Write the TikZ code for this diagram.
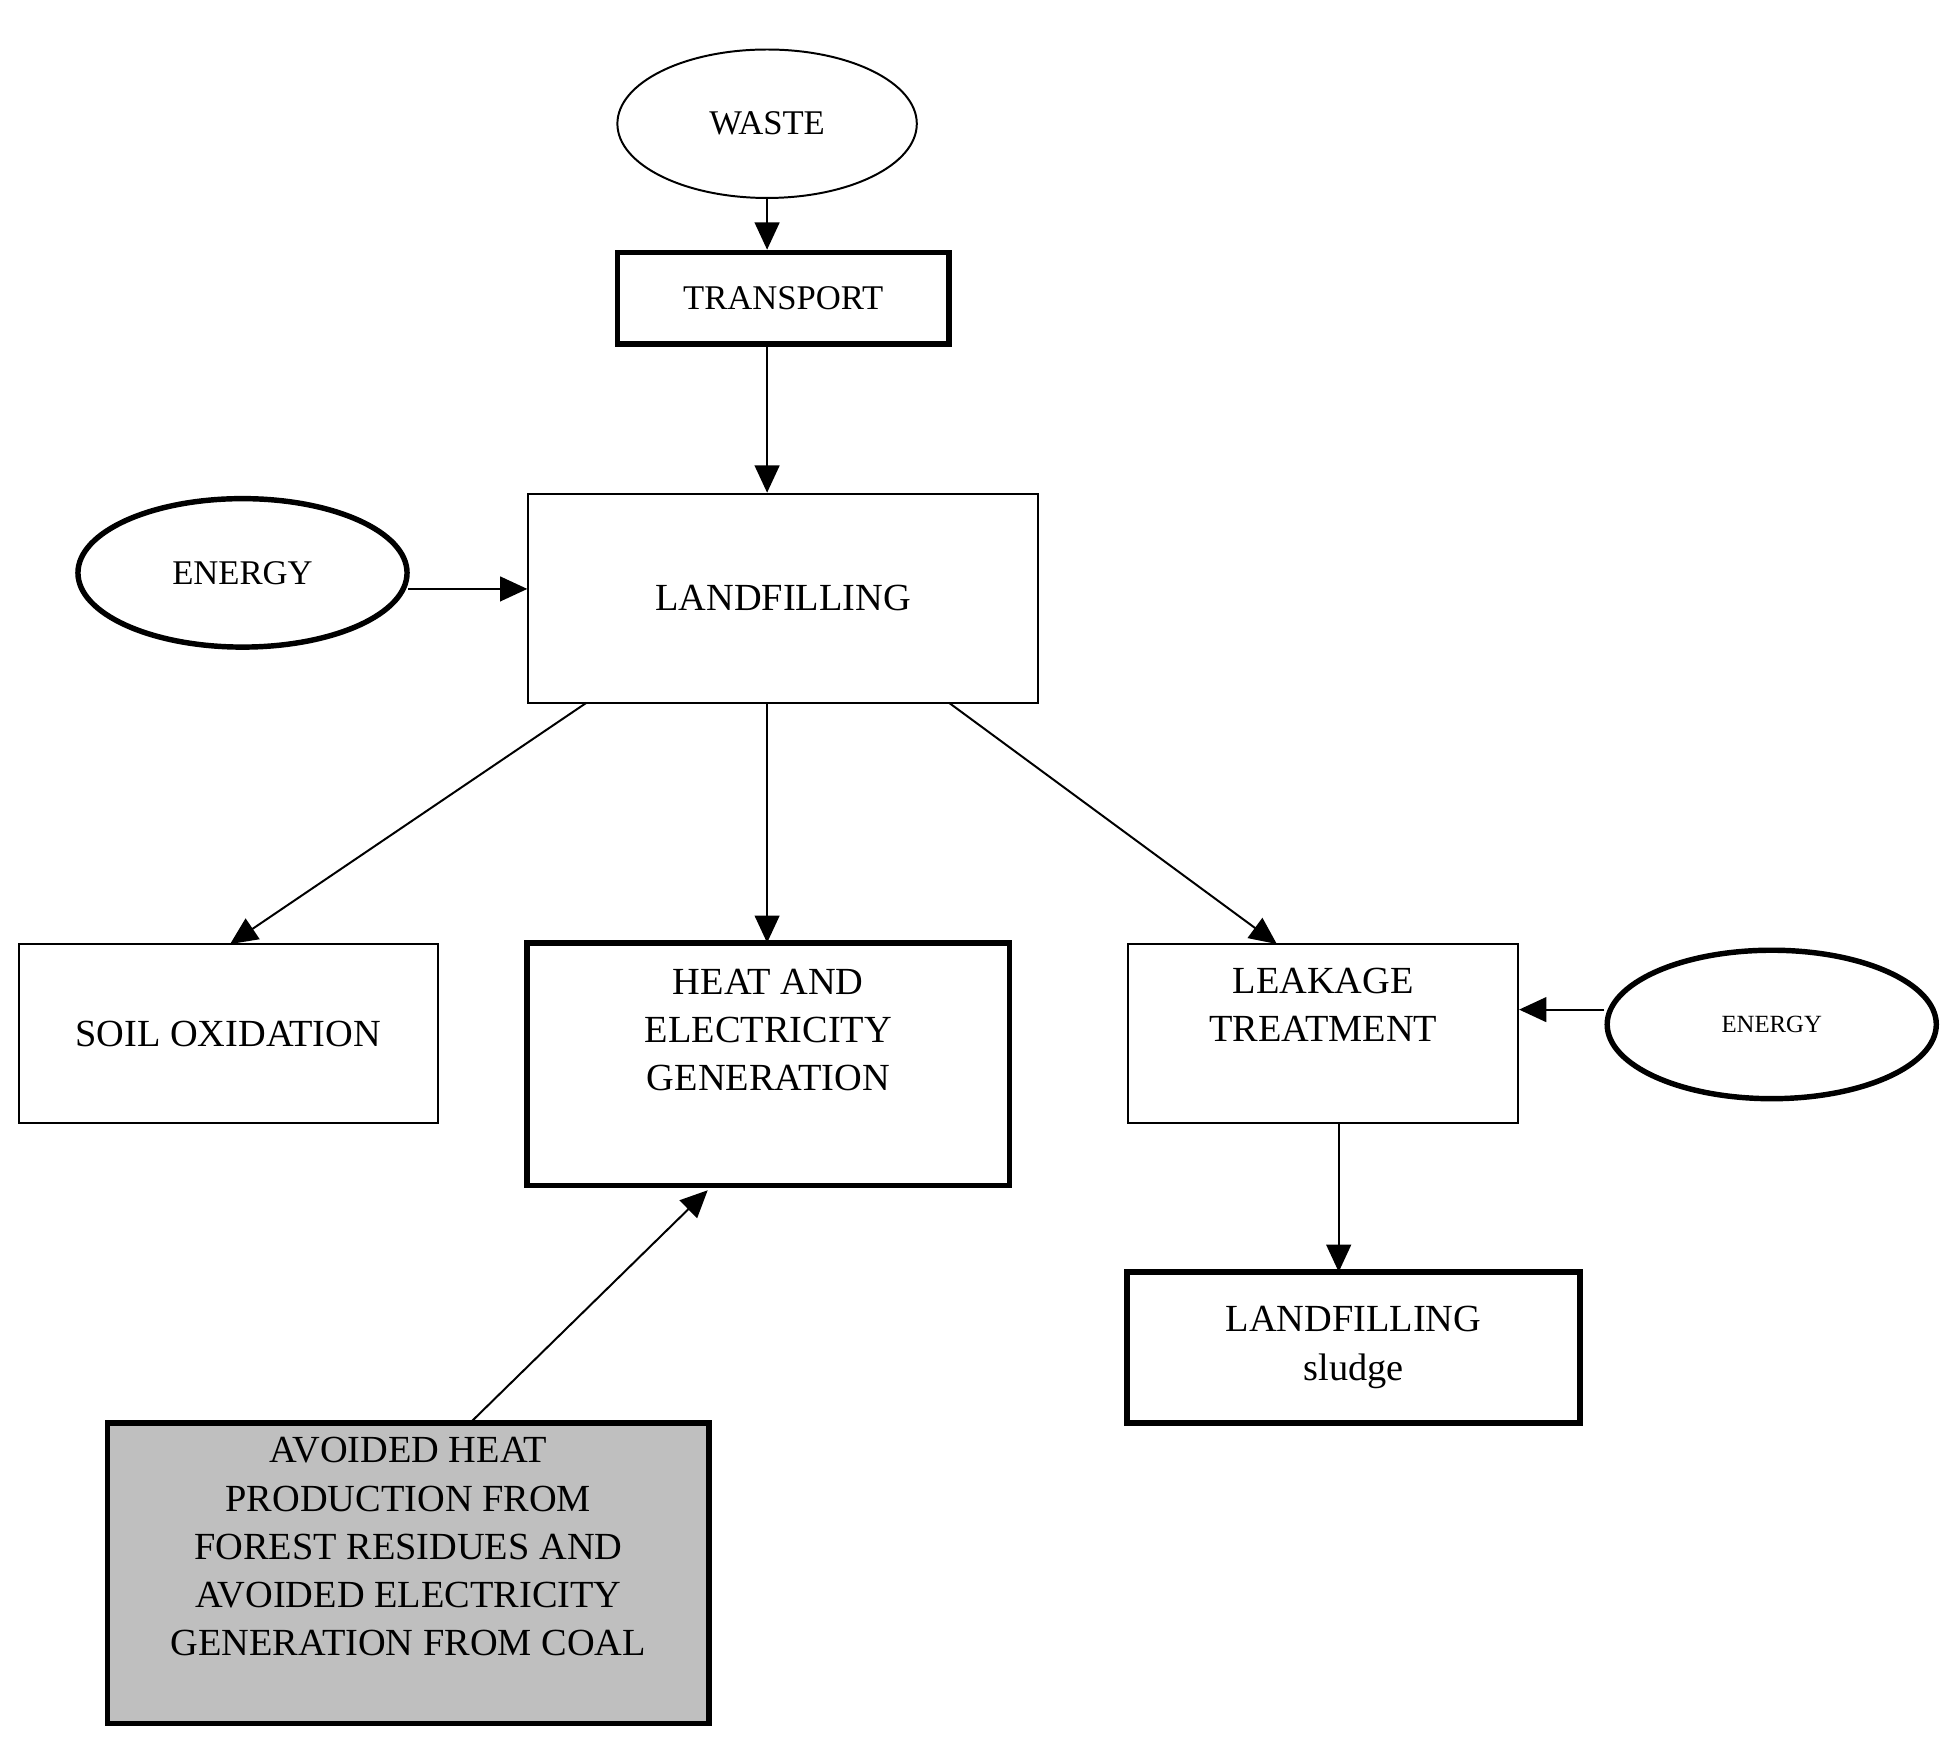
\documentclass[tikz,border=0pt]{standalone}
\usepackage{fontspec}
\setmainfont{Liberation Serif}
\usetikzlibrary{shapes.geometric,arrows.meta}
\begin{document}
\begin{tikzpicture}[x=0.5pt,y=-0.5pt,
  thin box/.style={draw,line width=0.8pt,inner sep=0pt,align=center,font=\fontsize{15.5}{19.5}\selectfont},
  thick box/.style={thin box,line width=2.2pt},
  oval/.style={ellipse,draw,inner sep=0pt,align=center},
  arr/.style={line width=0.8pt,-{Triangle[length=11pt,width=10pt]}}]
\useasboundingbox (0,0) rectangle (1568,1410);
\node[oval,line width=0.8pt,minimum width=242pt*0.5,minimum height=120pt*0.5,font=\fontsize{14}{17}\selectfont] (waste) at (620,100) {WASTE};
\node[thick box,minimum width=134pt,minimum height=37pt,font=\fontsize{14}{17}\selectfont] (transport) at (633,241) {TRANSPORT};
\node[thin box,minimum width=206pt,minimum height=84.5pt] (land) at (633,483.5) {LANDFILLING};
\node[oval,line width=2.2pt,minimum width=133pt,minimum height=60pt,font=\fontsize{14}{17}\selectfont] (energyL) at (196,463) {ENERGY};
\node[thin box,minimum width=169.5pt,minimum height=72.5pt] (soil) at (184.5,835.5) {SOIL OXIDATION};
\node[thick box,minimum width=195pt,minimum height=98pt] (heat) at (621,860) {HEAT AND\\ELECTRICITY\\GENERATION\\[8pt]};
\node[thin box,minimum width=157.5pt,minimum height=72.5pt] (leak) at (1069.5,835.5) {LEAKAGE\\TREATMENT\\[4pt]};
\node[oval,line width=2.2pt,minimum width=133pt,minimum height=60pt] (energyR) at (1432,828) {ENERGY};
\node[thick box,minimum width=183pt,minimum height=61pt] (sludge) at (1094,1089) {LANDFILLING\\sludge};
\node[thick box,fill=black!25,minimum width=243pt,minimum height=121.5pt] (avoid) at (330,1271.5) {AVOIDED HEAT\\PRODUCTION FROM\\FOREST RESIDUES AND\\AVOIDED ELECTRICITY\\GENERATION FROM COAL\\[2pt]};
\coordinate (l1) at (474,568); \coordinate (l2) at (620,568); \coordinate (l3) at (767,568);
\draw[arr] (waste.south) -- (waste.south |- transport.north);
\draw[arr] (transport.south -| waste.south) -- (land.north -| waste.south);
\draw[arr] (330,476) -- (land.west |- 0,476);
\draw[arr] (l1) -- (186,763);
\draw[arr] (l2) -- (620,762);
\draw[arr] (l3) -- (1032,763);
\draw[arr] (energyR.west |- 0,816) -- (leak.east |- 0,816);
\draw[arr] (1082,908) -- (1082,1028);
\draw[arr] (380,1150) -- (572,962);
\end{tikzpicture}
\end{document}
